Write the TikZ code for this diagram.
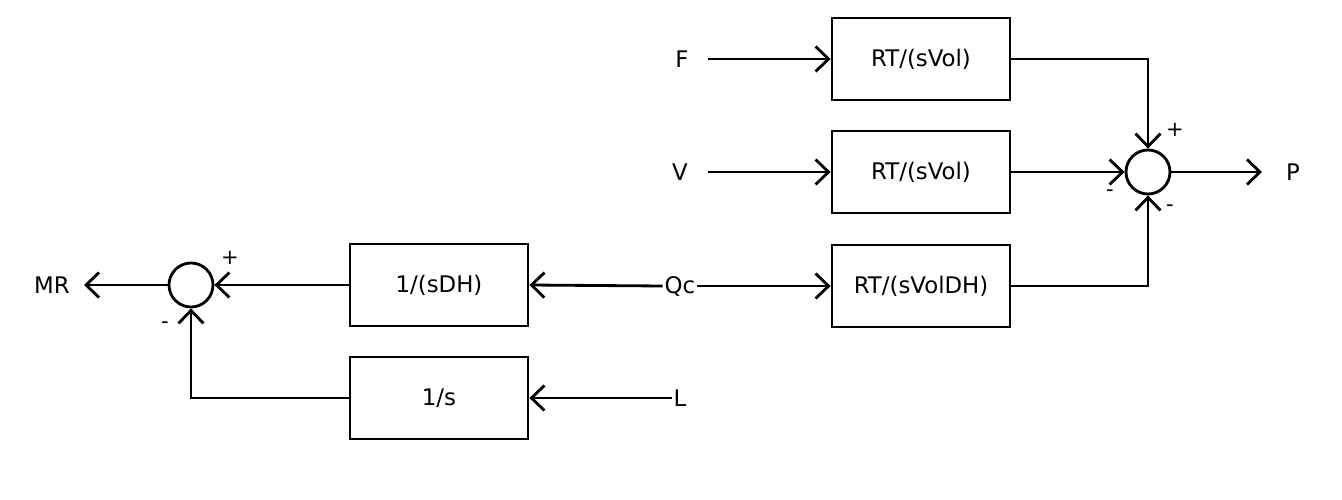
\documentclass[tikz,border=0pt]{standalone}
\usepackage{fontspec}
\setmainfont{DejaVu Sans}
\usetikzlibrary{arrows.meta}
\begin{document}
\begin{tikzpicture}[x=0.02cm,y=-0.02cm,
  blk/.style={draw,line width=1.6pt,minimum width=3.56cm,minimum height=1.64cm,inner sep=0pt},
  sum/.style={draw,circle,line width=1.6pt,minimum size=0.88cm,inner sep=0pt},
  lbl/.style={inner sep=1pt},
  sg/.style={inner sep=0pt,font=\fontsize{12}{14}\selectfont},
  ar/.style={line width=1.6pt,-{Straight Barb[length=2.6mm,width=5mm,line width=1.6pt]}},
  ln/.style={line width=1.6pt},
  every node/.append style={font=\fontsize{13}{15}\selectfont}]
\useasboundingbox (0,0) rectangle (1342,500);
\node[blk] (b1) at (921,59) {RT/(sVol)};
\node[blk] (b2) at (921,172) {RT/(sVol)};
\node[blk] (b3) at (921,286) {RT/(sVolDH)};
\node[blk] (b4) at (439,285) {1/(sDH)};
\node[blk] (b5) at (439,398) {1/s};
\node[sum] (s1) at (1148,172) {};
\node[sum] (s2) at (191,285) {};
\node[lbl] (F) at (682,59) {F};
\node[lbl] (V) at (680,172) {V};
\node[lbl] (P) at (1293,172) {P};
\node[lbl] (Qc) at (680,286) {Qc};
\node[lbl] (L) at (680,398) {L};
\node[lbl] (MR) at (52,285) {MR};
\coordinate (pe) at (1262,172);
\coordinate (me) at (84,285);
\draw[ar] (708,59) -- (b1.west);
\draw[ar] (708,172) -- (b2.west);
\draw[ar] (b1.east) -| (s1.north);
\draw[ar] (b2.east) -- (s1.west);
\draw[ar] (b3.east) -| (s1.south);
\draw[ar] (s1.east) -- (pe);
\draw[ar] (Qc.east) ++(0,0) -- (b3.west);
\draw[ar] (Qc.west) -- (b4.east);
\draw[ar] (L.west) -- (b5.east);
\draw[ar] (b4.west) -- (s2.east);
\draw[ar] (b5.west) -| (s2.south);
\draw[ar] (s2.west) -- (me);
\node[sg] at (1175,130) {+};
\node[sg] at (1110,193) {-};
\node[sg] at (1170,208) {-};
\node[sg] at (230,258) {+};
\node[sg] at (165,325) {-};
\end{tikzpicture}
\end{document}
